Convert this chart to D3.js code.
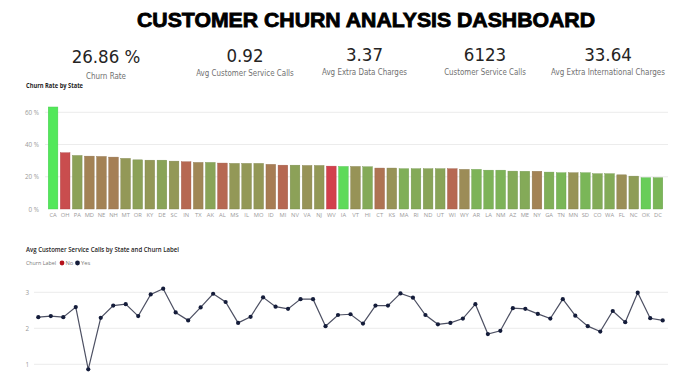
<!DOCTYPE html>
<html>
<head>
<meta charset="utf-8">
<script src="https://cdn.jsdelivr.net/npm/d3@7"></script>
<style>
  html, body { margin: 0; padding: 0; background: #fff; }
  svg { display: block; }
  .grid line { stroke: #ececec; stroke-width: 1; }
  .axis text { fill: #9a9a9a; font-family: "Open Sans", sans-serif; }
</style>
</head>
<body>
<div id="dash"></div>
<script>
// ---- data ----
const kpiValues = ["26.86 %", "0.92", "3.37", "6123", "33.64"];
const kpiLabels = ["Churn Rate", "Avg Customer Service Calls", "Avg Extra Data Charges",
                   "Customer Service Calls", "Avg Extra International Charges"];

const states = ["CA","OH","PA","MD","NE","NH","MT","OR","KY","DE","SC","IN","TX","AK","AL","MS",
                "IL","MO","ID","MI","NV","VA","NJ","WV","IA","VT","HI","CT","KS","MA","RI","ND",
                "UT","WI","WY","AR","LA","NM","AZ","ME","NY","GA","TN","MN","SD","CO","WA","FL",
                "NC","OK","DC"];

// churn rate by state, %
const churnRate = [63.3,34.9,33.2,32.8,32.6,32.2,31.4,30.5,30.3,30.3,29.7,29.3,28.9,28.9,28.5,28.3,
                   28.3,28.3,27.7,27.2,27.2,27.0,27.0,26.6,26.4,26.4,26.2,25.4,25.4,25.0,25.0,25.0,
                   25.0,25.0,24.6,24.6,24.1,24.1,23.5,23.4,23.4,22.9,22.5,22.5,22.5,21.9,21.9,21.2,
                   20.4,19.4,19.4];

// colour measure driving the red -> green gradient (0 = red end, 100 = green end)
const colorMeasure = [100,8,60,42,42,40,55,60,55,62,55,25,45,62,25,55,
                      55,55,38,25,60,52,55,0,92,52,65,32,52,68,65,62,
                      62,25,48,70,70,70,65,65,42,68,72,52,72,66,66,50,
                      58,85,72];

// avg customer service calls, churn label = Yes
const serviceCallsYes = [2.31,2.34,2.31,2.59,0.86,2.29,2.63,2.67,2.34,2.94,3.10,2.44,2.22,2.58,2.96,2.73,
                         2.15,2.32,2.86,2.60,2.54,2.81,2.81,2.06,2.37,2.39,2.13,2.63,2.63,2.97,2.85,2.37,
                         2.11,2.15,2.27,2.67,1.84,1.93,2.56,2.54,2.40,2.27,2.81,2.35,2.06,1.91,2.48,2.17,
                         2.99,2.28,2.22];

const barTicks = [0, 20, 40, 60];
const lineTicks = [1, 2, 3];
const legendItems = [{name: "No", color: "#b5121b"}, {name: "Yes", color: "#141c3a"}];

// ---- layout ----
const W = 680, H = 379;
const svg = d3.select("#dash").append("svg").attr("width", W).attr("height", H);

// title
svg.append("text")
   .attr("x", 137).attr("y", 27.3)
   .attr("textLength", 458).attr("lengthAdjust", "spacingAndGlyphs")
   .style("font-family", "'Liberation Sans', Arial, sans-serif")
   .style("font-weight", "bold").style("font-size", "19.5px")
   .style("fill", "#000").style("stroke", "#000").style("stroke-width", 0.8)
   .text("CUSTOMER CHURN ANALYSIS DASHBOARD");

// KPI cards
const kpiX = [106, 245, 364.5, 485, 608];
const kpiNumY = [63.3, 61.7, 60.7, 60.7, 60.7];
const kpiLabY = [79, 76, 74.5, 74.5, 74.5];
const kpiLabW = [40, 97.6, 85, 81.7, 114];

const kpi = svg.append("g").selectAll("g").data(kpiValues).enter().append("g");
kpi.append("text")
   .attr("x", (d, i) => kpiX[i]).attr("y", (d, i) => kpiNumY[i])
   .attr("text-anchor", "middle")
   .style("font-family", "'DejaVu Sans Condensed', 'DejaVu Sans', sans-serif")
   .style("font-size", "18.5px").style("fill", "#252423")
   .text(d => d);
kpi.append("text")
   .attr("x", (d, i) => kpiX[i]).attr("y", (d, i) => kpiLabY[i])
   .attr("text-anchor", "middle")
   .attr("textLength", (d, i) => kpiLabW[i]).attr("lengthAdjust", "spacingAndGlyphs")
   .style("font-family", "'DejaVu Sans Condensed', 'DejaVu Sans', sans-serif")
   .style("font-size", "9px").style("fill", "#707070")
   .text((d, i) => kpiLabels[i]);

// ---- bar chart: churn rate by state ----
svg.append("text")
   .attr("x", 26).attr("y", 87.5)
   .attr("textLength", 57).attr("lengthAdjust", "spacingAndGlyphs")
   .style("font-family", "'Open Sans', sans-serif").style("font-weight", "bold")
   .style("font-size", "6.5px").style("fill", "#252423")
   .text("Churn Rate by State");

const xBar = d3.scaleBand().domain(states).range([47, 664]).paddingInner(0.2).paddingOuter(0.1);
const yBar = d3.scaleLinear().domain([0, 60]).range([209, 112.3]);
const barColor = d3.scaleLinear().domain([0, 50, 100])
                   .range(["#d2404c", "#9a8f57", "#52e85a"]);

svg.append("g").attr("class", "grid")
   .selectAll("line").data(barTicks.filter(t => t > 0)).enter().append("line")
   .attr("x1", 45).attr("x2", 668)
   .attr("y1", d => yBar(d)).attr("y2", d => yBar(d));

svg.append("g").attr("class", "axis")
   .attr("transform", "translate(39,0)")
   .call(d3.axisLeft(yBar).tickValues(barTicks).tickFormat(d => d + " %").tickSize(0).tickPadding(0))
   .call(g => g.select(".domain").remove())
   .selectAll("text").style("font-size", "6.3px");

svg.append("g").selectAll("rect").data(states).enter().append("rect")
   .attr("x", d => xBar(d))
   .attr("width", xBar.bandwidth())
   .attr("y", (d, i) => yBar(churnRate[i]))
   .attr("height", (d, i) => yBar(0) - yBar(churnRate[i]))
   .attr("fill", (d, i) => barColor(colorMeasure[i]))
   .attr("stroke", (d, i) => d3.color(barColor(colorMeasure[i])).darker(0.4))
   .attr("stroke-width", 0.4);

svg.append("g").attr("class", "axis")
   .attr("transform", "translate(0,210)")
   .call(d3.axisBottom(xBar).tickSize(0).tickPadding(3))
   .call(g => g.select(".domain").remove())
   .selectAll("text").style("font-size", "5.8px");

// ---- line chart: avg customer service calls ----
svg.append("text")
   .attr("x", 26).attr("y", 252)
   .attr("textLength", 153).attr("lengthAdjust", "spacingAndGlyphs")
   .style("font-family", "'Open Sans', sans-serif").style("font-weight", "600")
   .style("font-size", "6.8px").style("fill", "#252423")
   .text("Avg Customer Service Calls by State and Churn Label");

const legend = svg.append("g").attr("transform", "translate(26,265)");
legend.append("text").attr("x", 0).attr("y", 0)
      .attr("textLength", 30).attr("lengthAdjust", "spacingAndGlyphs")
      .style("font-family", "'Open Sans', sans-serif").style("font-size", "5.8px").style("fill", "#777")
      .text("Churn Label");
const li = legend.selectAll("g.item").data(legendItems).enter().append("g")
      .attr("class", "item")
      .attr("transform", (d, i) => `translate(${36 + i * 15.5},0)`);
li.append("circle").attr("cx", 0).attr("cy", -2).attr("r", 2.4).attr("fill", d => d.color);
li.append("text").attr("x", 3.5).attr("y", 0)
  .style("font-family", "'Open Sans', sans-serif").style("font-size", "5.8px").style("fill", "#777")
  .text(d => d.name);

const xLine = d3.scalePoint().domain(states).range([38.3, 662.7]);
const yLine = d3.scaleLinear().domain([1, 3]).range([364.3, 292.3]);

svg.append("g").attr("class", "grid")
   .selectAll("line").data(lineTicks).enter().append("line")
   .attr("x1", 34).attr("x2", 668)
   .attr("y1", d => yLine(d)).attr("y2", d => yLine(d));

svg.append("g").attr("class", "axis")
   .attr("transform", "translate(29,0)")
   .call(d3.axisLeft(yLine).tickValues(lineTicks).tickFormat(d3.format("d")).tickSize(0).tickPadding(0))
   .call(g => g.select(".domain").remove())
   .selectAll("text").style("font-size", "6.3px");

const line = d3.line().x((d, i) => xLine(states[i])).y(d => yLine(d));
svg.append("path").datum(serviceCallsYes)
   .attr("d", line)
   .attr("fill", "none").attr("stroke", "#4d5063").attr("stroke-width", 1.2);

svg.append("g").selectAll("circle").data(serviceCallsYes).enter().append("circle")
   .attr("cx", (d, i) => xLine(states[i]))
   .attr("cy", d => yLine(d))
   .attr("r", 2.1)
   .attr("fill", legendItems[1].color);
</script>
</body>
</html>
